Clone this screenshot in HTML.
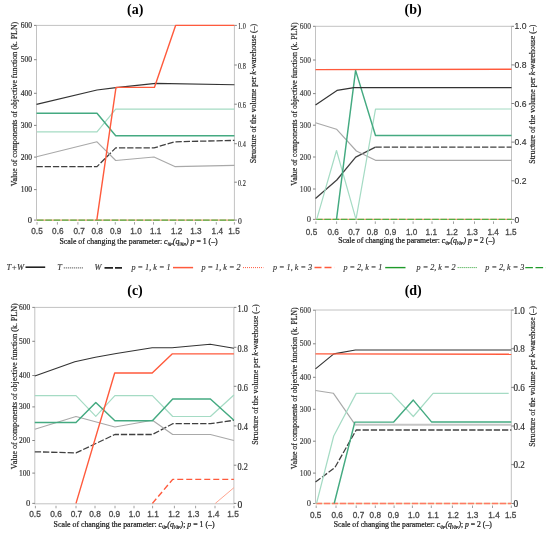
<!DOCTYPE html>
<html><head><meta charset="utf-8"><style>
html,body{margin:0;padding:0;background:#fff;}
svg{display:block;}
</style></head><body>
<svg width="550" height="535" viewBox="0 0 550 535">
<rect width="550" height="535" fill="#fff"/>
<line x1="36.5" y1="25.4" x2="234.4" y2="25.4" stroke="#c2c2c2" stroke-width="1"/>
<line x1="36.5" y1="25.4" x2="36.5" y2="220.6" stroke="#c2c2c2" stroke-width="1"/>
<line x1="234.4" y1="25.4" x2="234.4" y2="220.6" stroke="#c2c2c2" stroke-width="1"/>
<line x1="34.0" y1="25.4" x2="36.5" y2="25.4" stroke="#666" stroke-width="0.8"/>
<text x="32.0" y="27.9" font-family='"Liberation Serif", serif' font-size="8.6" text-anchor="end" fill="#2a2a2a" font-weight="normal" font-style="normal" textLength="11.2" lengthAdjust="spacingAndGlyphs" stroke="#2a2a2a" stroke-width="0.2">600</text>
<line x1="34.0" y1="59.7" x2="36.5" y2="59.7" stroke="#666" stroke-width="0.8"/>
<text x="32.0" y="62.2" font-family='"Liberation Serif", serif' font-size="8.6" text-anchor="end" fill="#2a2a2a" font-weight="normal" font-style="normal" textLength="11.2" lengthAdjust="spacingAndGlyphs" stroke="#2a2a2a" stroke-width="0.2">500</text>
<line x1="34.0" y1="93.3" x2="36.5" y2="93.3" stroke="#666" stroke-width="0.8"/>
<text x="32.0" y="95.8" font-family='"Liberation Serif", serif' font-size="8.6" text-anchor="end" fill="#2a2a2a" font-weight="normal" font-style="normal" textLength="11.2" lengthAdjust="spacingAndGlyphs" stroke="#2a2a2a" stroke-width="0.2">400</text>
<line x1="34.0" y1="125.4" x2="36.5" y2="125.4" stroke="#666" stroke-width="0.8"/>
<text x="32.0" y="127.9" font-family='"Liberation Serif", serif' font-size="8.6" text-anchor="end" fill="#2a2a2a" font-weight="normal" font-style="normal" textLength="11.2" lengthAdjust="spacingAndGlyphs" stroke="#2a2a2a" stroke-width="0.2">300</text>
<line x1="34.0" y1="157.1" x2="36.5" y2="157.1" stroke="#666" stroke-width="0.8"/>
<text x="32.0" y="159.6" font-family='"Liberation Serif", serif' font-size="8.6" text-anchor="end" fill="#2a2a2a" font-weight="normal" font-style="normal" textLength="11.2" lengthAdjust="spacingAndGlyphs" stroke="#2a2a2a" stroke-width="0.2">200</text>
<line x1="34.0" y1="189.6" x2="36.5" y2="189.6" stroke="#666" stroke-width="0.8"/>
<text x="32.0" y="192.1" font-family='"Liberation Serif", serif' font-size="8.6" text-anchor="end" fill="#2a2a2a" font-weight="normal" font-style="normal" textLength="11.2" lengthAdjust="spacingAndGlyphs" stroke="#2a2a2a" stroke-width="0.2">100</text>
<line x1="34.0" y1="220.1" x2="36.5" y2="220.1" stroke="#666" stroke-width="0.8"/>
<text x="32.0" y="222.6" font-family='"Liberation Serif", serif' font-size="8.6" text-anchor="end" fill="#2a2a2a" font-weight="normal" font-style="normal" stroke="#2a2a2a" stroke-width="0.2">0</text>
<line x1="234.4" y1="25.4" x2="236.9" y2="25.4" stroke="#666" stroke-width="0.8"/>
<text x="238.0" y="29.0" font-family='"Liberation Serif", serif' font-size="9.0" text-anchor="start" fill="#2a2a2a" font-weight="normal" font-style="normal" textLength="7.8" lengthAdjust="spacingAndGlyphs" stroke="#2a2a2a" stroke-width="0.15">1.0</text>
<line x1="234.4" y1="65.0" x2="236.9" y2="65.0" stroke="#666" stroke-width="0.8"/>
<text x="238.0" y="68.6" font-family='"Liberation Serif", serif' font-size="9.0" text-anchor="start" fill="#2a2a2a" font-weight="normal" font-style="normal" textLength="7.8" lengthAdjust="spacingAndGlyphs" stroke="#2a2a2a" stroke-width="0.15">0.8</text>
<line x1="234.4" y1="104.2" x2="236.9" y2="104.2" stroke="#666" stroke-width="0.8"/>
<text x="238.0" y="107.8" font-family='"Liberation Serif", serif' font-size="9.0" text-anchor="start" fill="#2a2a2a" font-weight="normal" font-style="normal" textLength="7.8" lengthAdjust="spacingAndGlyphs" stroke="#2a2a2a" stroke-width="0.15">0.6</text>
<line x1="234.4" y1="143.7" x2="236.9" y2="143.7" stroke="#666" stroke-width="0.8"/>
<text x="238.0" y="147.3" font-family='"Liberation Serif", serif' font-size="9.0" text-anchor="start" fill="#2a2a2a" font-weight="normal" font-style="normal" textLength="7.8" lengthAdjust="spacingAndGlyphs" stroke="#2a2a2a" stroke-width="0.15">0.4</text>
<line x1="234.4" y1="182.2" x2="236.9" y2="182.2" stroke="#666" stroke-width="0.8"/>
<text x="238.0" y="185.8" font-family='"Liberation Serif", serif' font-size="9.0" text-anchor="start" fill="#2a2a2a" font-weight="normal" font-style="normal" textLength="7.8" lengthAdjust="spacingAndGlyphs" stroke="#2a2a2a" stroke-width="0.15">0.2</text>
<line x1="234.4" y1="220.1" x2="236.9" y2="220.1" stroke="#666" stroke-width="0.8"/>
<text x="238.0" y="223.7" font-family='"Liberation Serif", serif' font-size="9.0" text-anchor="start" fill="#2a2a2a" font-weight="normal" font-style="normal" textLength="3.8" lengthAdjust="spacingAndGlyphs" stroke="#2a2a2a" stroke-width="0.15">0</text>
<line x1="37.0" y1="222.1" x2="37.0" y2="224.6" stroke="#888" stroke-width="0.8"/>
<line x1="57.4" y1="222.1" x2="57.4" y2="224.6" stroke="#888" stroke-width="0.8"/>
<line x1="77.9" y1="222.1" x2="77.9" y2="224.6" stroke="#888" stroke-width="0.8"/>
<line x1="97.5" y1="222.1" x2="97.5" y2="224.6" stroke="#888" stroke-width="0.8"/>
<line x1="115.3" y1="222.1" x2="115.3" y2="224.6" stroke="#888" stroke-width="0.8"/>
<line x1="134.5" y1="222.1" x2="134.5" y2="224.6" stroke="#888" stroke-width="0.8"/>
<line x1="153.5" y1="222.1" x2="153.5" y2="224.6" stroke="#888" stroke-width="0.8"/>
<line x1="175.3" y1="222.1" x2="175.3" y2="224.6" stroke="#888" stroke-width="0.8"/>
<line x1="195.5" y1="222.1" x2="195.5" y2="224.6" stroke="#888" stroke-width="0.8"/>
<line x1="216.3" y1="222.1" x2="216.3" y2="224.6" stroke="#888" stroke-width="0.8"/>
<line x1="234.4" y1="222.1" x2="234.4" y2="224.6" stroke="#888" stroke-width="0.8"/>
<text x="37.0" y="234.4" font-family='"Liberation Sans", sans-serif' font-size="8.2" text-anchor="middle" fill="#4a4a4a" font-weight="normal" font-style="normal" stroke="#4a4a4a" stroke-width="0.3">0.5</text>
<text x="57.8" y="234.4" font-family='"Liberation Sans", sans-serif' font-size="8.2" text-anchor="middle" fill="#4a4a4a" font-weight="normal" font-style="normal" stroke="#4a4a4a" stroke-width="0.3">0.6</text>
<text x="79.2" y="234.4" font-family='"Liberation Sans", sans-serif' font-size="8.2" text-anchor="middle" fill="#4a4a4a" font-weight="normal" font-style="normal" stroke="#4a4a4a" stroke-width="0.3">0.7</text>
<text x="97.1" y="234.4" font-family='"Liberation Sans", sans-serif' font-size="8.2" text-anchor="middle" fill="#4a4a4a" font-weight="normal" font-style="normal" stroke="#4a4a4a" stroke-width="0.3">0.8</text>
<text x="115.6" y="234.4" font-family='"Liberation Sans", sans-serif' font-size="8.2" text-anchor="middle" fill="#4a4a4a" font-weight="normal" font-style="normal" stroke="#4a4a4a" stroke-width="0.3">0.9</text>
<text x="136.0" y="234.4" font-family='"Liberation Sans", sans-serif' font-size="8.2" text-anchor="middle" fill="#4a4a4a" font-weight="normal" font-style="normal" stroke="#4a4a4a" stroke-width="0.3">1.0</text>
<text x="155.6" y="234.4" font-family='"Liberation Sans", sans-serif' font-size="8.2" text-anchor="middle" fill="#4a4a4a" font-weight="normal" font-style="normal" stroke="#4a4a4a" stroke-width="0.3">1.1</text>
<text x="176.6" y="234.4" font-family='"Liberation Sans", sans-serif' font-size="8.2" text-anchor="middle" fill="#4a4a4a" font-weight="normal" font-style="normal" stroke="#4a4a4a" stroke-width="0.3">1.2</text>
<text x="195.9" y="234.4" font-family='"Liberation Sans", sans-serif' font-size="8.2" text-anchor="middle" fill="#4a4a4a" font-weight="normal" font-style="normal" stroke="#4a4a4a" stroke-width="0.3">1.3</text>
<text x="217.3" y="234.4" font-family='"Liberation Sans", sans-serif' font-size="8.2" text-anchor="middle" fill="#4a4a4a" font-weight="normal" font-style="normal" stroke="#4a4a4a" stroke-width="0.3">1.4</text>
<text x="234.0" y="234.4" font-family='"Liberation Sans", sans-serif' font-size="8.2" text-anchor="middle" fill="#4a4a4a" font-weight="normal" font-style="normal" stroke="#4a4a4a" stroke-width="0.3">1.5</text>
<line x1="36.5" y1="220.1" x2="234.4" y2="220.1" stroke="#f7a27a" stroke-width="1.1"/><line x1="37.0" y1="220.1" x2="234.4" y2="220.1" stroke="#52ad45" stroke-width="1.3" stroke-dasharray="6.6 1.7"/>
<polyline points="36.5,166.6 97.0,166.6 115.7,147.9 154.0,147.9 174.8,141.8 234.4,140.4" fill="none" stroke="#404040" stroke-width="1.3" stroke-dasharray="6.3 1.9" stroke-linejoin="round" stroke-linecap="butt" opacity="1"/>
<polyline points="36.5,156.8 97.0,141.8 115.7,160.5 154.0,157.0 174.8,166.6 234.4,165.4" fill="none" stroke="#a9a9a9" stroke-width="1.15" stroke-linejoin="round" stroke-linecap="butt" opacity="1"/>
<polyline points="37.0,131.8 97.0,131.8 115.7,109.2 234.4,109.2" fill="none" stroke="#a5dbc4" stroke-width="1.2" stroke-linejoin="round" stroke-linecap="butt" opacity="1"/>
<polyline points="36.5,113.2 97.0,113.2 115.7,135.7 234.4,135.7" fill="none" stroke="#44aa81" stroke-width="1.45" stroke-linejoin="round" stroke-linecap="butt" opacity="1"/>
<polyline points="36.5,104.4 97.0,90.0 116.0,87.6 155.6,83.4 234.4,84.8" fill="none" stroke="#333333" stroke-width="1.15" stroke-linejoin="round" stroke-linecap="butt" opacity="1"/>
<polyline points="96.8,220.1 116.0,87.4 154.4,87.4 175.6,25.4 234.4,25.4" fill="none" stroke="#ff5a3c" stroke-width="1.4" stroke-linejoin="round" stroke-linecap="butt" opacity="1"/>
<text x="135.2" y="13.9" font-family='"Liberation Serif", serif' font-size="14" text-anchor="middle" fill="#000" font-weight="bold" font-style="normal" >(a)</text>
<text transform="translate(17.0,104) rotate(-90)" font-family='"Liberation Serif", serif' font-size="7.8" fill="#222" stroke="#222" stroke-width="0.18" text-anchor="middle" textLength="164.5" lengthAdjust="spacingAndGlyphs">Value of components of objective function (k. PLN)</text>
<text transform="translate(256.3,93.5) rotate(-90)" font-family='"Liberation Serif", serif' font-size="7.8" fill="#222" stroke="#222" stroke-width="0.18" text-anchor="middle" textLength="139.5" lengthAdjust="spacingAndGlyphs">Structure of the volume per <tspan font-style="italic">k</tspan>-warehouse (–)</text>
<text x="59.5" y="244" font-family='"Liberation Serif", serif' font-size="7.8" fill="#222" stroke="#222" stroke-width="0.24" textLength="158.2" lengthAdjust="spacingAndGlyphs">Scale of changing the parameter: <tspan font-style="italic">c<tspan font-size="5" dy="1">ijp</tspan><tspan dy="-1">(</tspan>q<tspan font-size="5" dy="1">|ijp</tspan><tspan dy="-1">)</tspan></tspan> <tspan font-style="italic">p</tspan> = 1 (–)</text>
<line x1="315.5" y1="26.3" x2="511.5" y2="26.3" stroke="#c2c2c2" stroke-width="1"/>
<line x1="315.5" y1="26.3" x2="315.5" y2="219.9" stroke="#c2c2c2" stroke-width="1"/>
<line x1="511.5" y1="26.3" x2="511.5" y2="219.9" stroke="#c2c2c2" stroke-width="1"/>
<line x1="313.0" y1="26.3" x2="315.5" y2="26.3" stroke="#666" stroke-width="0.8"/>
<text x="311.0" y="28.8" font-family='"Liberation Serif", serif' font-size="8.6" text-anchor="end" fill="#444" font-weight="normal" font-style="normal" textLength="11.2" lengthAdjust="spacingAndGlyphs" stroke="#444" stroke-width="0.2">600</text>
<line x1="313.0" y1="60.0" x2="315.5" y2="60.0" stroke="#666" stroke-width="0.8"/>
<text x="311.0" y="62.5" font-family='"Liberation Serif", serif' font-size="8.6" text-anchor="end" fill="#444" font-weight="normal" font-style="normal" textLength="11.2" lengthAdjust="spacingAndGlyphs" stroke="#444" stroke-width="0.2">500</text>
<line x1="313.0" y1="93.6" x2="315.5" y2="93.6" stroke="#666" stroke-width="0.8"/>
<text x="311.0" y="96.1" font-family='"Liberation Serif", serif' font-size="8.6" text-anchor="end" fill="#444" font-weight="normal" font-style="normal" textLength="11.2" lengthAdjust="spacingAndGlyphs" stroke="#444" stroke-width="0.2">400</text>
<line x1="313.0" y1="125.2" x2="315.5" y2="125.2" stroke="#666" stroke-width="0.8"/>
<text x="311.0" y="127.7" font-family='"Liberation Serif", serif' font-size="8.6" text-anchor="end" fill="#444" font-weight="normal" font-style="normal" textLength="11.2" lengthAdjust="spacingAndGlyphs" stroke="#444" stroke-width="0.2">300</text>
<line x1="313.0" y1="157.0" x2="315.5" y2="157.0" stroke="#666" stroke-width="0.8"/>
<text x="311.0" y="159.5" font-family='"Liberation Serif", serif' font-size="8.6" text-anchor="end" fill="#444" font-weight="normal" font-style="normal" textLength="11.2" lengthAdjust="spacingAndGlyphs" stroke="#444" stroke-width="0.2">200</text>
<line x1="313.0" y1="189.0" x2="315.5" y2="189.0" stroke="#666" stroke-width="0.8"/>
<text x="311.0" y="191.5" font-family='"Liberation Serif", serif' font-size="8.6" text-anchor="end" fill="#444" font-weight="normal" font-style="normal" textLength="11.2" lengthAdjust="spacingAndGlyphs" stroke="#444" stroke-width="0.2">100</text>
<line x1="313.0" y1="219.4" x2="315.5" y2="219.4" stroke="#666" stroke-width="0.8"/>
<text x="311.0" y="221.9" font-family='"Liberation Serif", serif' font-size="8.6" text-anchor="end" fill="#444" font-weight="normal" font-style="normal" stroke="#444" stroke-width="0.2">0</text>
<line x1="511.5" y1="26.3" x2="514.0" y2="26.3" stroke="#666" stroke-width="0.8"/>
<text x="514.5" y="29.4" font-family='"Liberation Sans", sans-serif' font-size="8.6" text-anchor="start" fill="#333" font-weight="normal" font-style="normal" stroke="#333" stroke-width="0.15">1.0</text>
<line x1="511.5" y1="64.9" x2="514.0" y2="64.9" stroke="#666" stroke-width="0.8"/>
<text x="514.5" y="68.0" font-family='"Liberation Sans", sans-serif' font-size="8.6" text-anchor="start" fill="#333" font-weight="normal" font-style="normal" stroke="#333" stroke-width="0.15">0.8</text>
<line x1="511.5" y1="103.5" x2="514.0" y2="103.5" stroke="#666" stroke-width="0.8"/>
<text x="514.5" y="106.6" font-family='"Liberation Sans", sans-serif' font-size="8.6" text-anchor="start" fill="#333" font-weight="normal" font-style="normal" stroke="#333" stroke-width="0.15">0.6</text>
<line x1="511.5" y1="142.1" x2="514.0" y2="142.1" stroke="#666" stroke-width="0.8"/>
<text x="514.5" y="145.2" font-family='"Liberation Sans", sans-serif' font-size="8.6" text-anchor="start" fill="#333" font-weight="normal" font-style="normal" stroke="#333" stroke-width="0.15">0.4</text>
<line x1="511.5" y1="180.8" x2="514.0" y2="180.8" stroke="#666" stroke-width="0.8"/>
<text x="514.5" y="183.9" font-family='"Liberation Sans", sans-serif' font-size="8.6" text-anchor="start" fill="#333" font-weight="normal" font-style="normal" stroke="#333" stroke-width="0.15">0.2</text>
<line x1="511.5" y1="219.4" x2="514.0" y2="219.4" stroke="#666" stroke-width="0.8"/>
<text x="514.5" y="222.5" font-family='"Liberation Sans", sans-serif' font-size="8.6" text-anchor="start" fill="#333" font-weight="normal" font-style="normal" stroke="#333" stroke-width="0.15">0</text>
<line x1="315.9" y1="221.4" x2="315.9" y2="223.9" stroke="#888" stroke-width="0.8"/>
<line x1="336.6" y1="221.4" x2="336.6" y2="223.9" stroke="#888" stroke-width="0.8"/>
<line x1="356.3" y1="221.4" x2="356.3" y2="223.9" stroke="#888" stroke-width="0.8"/>
<line x1="375.3" y1="221.4" x2="375.3" y2="223.9" stroke="#888" stroke-width="0.8"/>
<line x1="393.9" y1="221.4" x2="393.9" y2="223.9" stroke="#888" stroke-width="0.8"/>
<line x1="413.1" y1="221.4" x2="413.1" y2="223.9" stroke="#888" stroke-width="0.8"/>
<line x1="432.0" y1="221.4" x2="432.0" y2="223.9" stroke="#888" stroke-width="0.8"/>
<line x1="453.5" y1="221.4" x2="453.5" y2="223.9" stroke="#888" stroke-width="0.8"/>
<line x1="474.5" y1="221.4" x2="474.5" y2="223.9" stroke="#888" stroke-width="0.8"/>
<line x1="493.5" y1="221.4" x2="493.5" y2="223.9" stroke="#888" stroke-width="0.8"/>
<line x1="511.5" y1="221.4" x2="511.5" y2="223.9" stroke="#888" stroke-width="0.8"/>
<text x="311.5" y="234.8" font-family='"Liberation Sans", sans-serif' font-size="9.0" text-anchor="middle" fill="#4a4a4a" font-weight="normal" font-style="normal" textLength="11.4" lengthAdjust="spacingAndGlyphs" stroke="#4a4a4a" stroke-width="0.3">0.5</text>
<text x="333.1" y="234.8" font-family='"Liberation Sans", sans-serif' font-size="9.0" text-anchor="middle" fill="#4a4a4a" font-weight="normal" font-style="normal" textLength="11.4" lengthAdjust="spacingAndGlyphs" stroke="#4a4a4a" stroke-width="0.3">0.6</text>
<text x="354.0" y="234.8" font-family='"Liberation Sans", sans-serif' font-size="9.0" text-anchor="middle" fill="#4a4a4a" font-weight="normal" font-style="normal" textLength="11.4" lengthAdjust="spacingAndGlyphs" stroke="#4a4a4a" stroke-width="0.3">0.7</text>
<text x="372.4" y="234.8" font-family='"Liberation Sans", sans-serif' font-size="9.0" text-anchor="middle" fill="#4a4a4a" font-weight="normal" font-style="normal" textLength="11.4" lengthAdjust="spacingAndGlyphs" stroke="#4a4a4a" stroke-width="0.3">0.8</text>
<text x="390.5" y="234.8" font-family='"Liberation Sans", sans-serif' font-size="9.0" text-anchor="middle" fill="#4a4a4a" font-weight="normal" font-style="normal" textLength="11.4" lengthAdjust="spacingAndGlyphs" stroke="#4a4a4a" stroke-width="0.3">0.9</text>
<text x="411.6" y="234.8" font-family='"Liberation Sans", sans-serif' font-size="9.0" text-anchor="middle" fill="#4a4a4a" font-weight="normal" font-style="normal" textLength="11.4" lengthAdjust="spacingAndGlyphs" stroke="#4a4a4a" stroke-width="0.3">1.0</text>
<text x="431.3" y="234.8" font-family='"Liberation Sans", sans-serif' font-size="9.0" text-anchor="middle" fill="#4a4a4a" font-weight="normal" font-style="normal" textLength="11.4" lengthAdjust="spacingAndGlyphs" stroke="#4a4a4a" stroke-width="0.3">1.1</text>
<text x="452.0" y="234.8" font-family='"Liberation Sans", sans-serif' font-size="9.0" text-anchor="middle" fill="#4a4a4a" font-weight="normal" font-style="normal" textLength="11.4" lengthAdjust="spacingAndGlyphs" stroke="#4a4a4a" stroke-width="0.3">1.2</text>
<text x="472.1" y="234.8" font-family='"Liberation Sans", sans-serif' font-size="9.0" text-anchor="middle" fill="#4a4a4a" font-weight="normal" font-style="normal" textLength="11.4" lengthAdjust="spacingAndGlyphs" stroke="#4a4a4a" stroke-width="0.3">1.3</text>
<text x="493.2" y="234.8" font-family='"Liberation Sans", sans-serif' font-size="9.0" text-anchor="middle" fill="#4a4a4a" font-weight="normal" font-style="normal" textLength="11.4" lengthAdjust="spacingAndGlyphs" stroke="#4a4a4a" stroke-width="0.3">1.4</text>
<text x="510.9" y="234.8" font-family='"Liberation Sans", sans-serif' font-size="9.0" text-anchor="middle" fill="#4a4a4a" font-weight="normal" font-style="normal" textLength="11.4" lengthAdjust="spacingAndGlyphs" stroke="#4a4a4a" stroke-width="0.3">1.5</text>
<line x1="315.5" y1="219.4" x2="511.5" y2="219.4" stroke="#f7a27a" stroke-width="1.1"/><line x1="316.0" y1="219.4" x2="511.5" y2="219.4" stroke="#52ad45" stroke-width="1.3" stroke-dasharray="6.6 1.7"/>
<polyline points="315.5,198.4 336.8,180.0 355.7,157.2 375.4,147.2" fill="none" stroke="#404040" stroke-width="1.3" stroke-linejoin="round" stroke-linecap="butt" opacity="1"/>
<polyline points="375.4,147.2 511.5,147.2" fill="none" stroke="#404040" stroke-width="1.3" stroke-dasharray="6.3 1.9" stroke-linejoin="round" stroke-linecap="butt" opacity="1"/>
<polyline points="315.5,122.7 336.5,129.2 356.4,151.0 375.5,160.3 511.5,160.3" fill="none" stroke="#a9a9a9" stroke-width="1.15" stroke-linejoin="round" stroke-linecap="butt" opacity="1"/>
<polyline points="316.7,219.4 336.5,150.5 356.0,219.4 375.5,109.2 511.5,109.0" fill="none" stroke="#a5dbc4" stroke-width="1.2" stroke-linejoin="round" stroke-linecap="butt" opacity="1"/>
<polyline points="336.5,219.4 355.6,70.4 375.5,135.5 511.5,135.5" fill="none" stroke="#44aa81" stroke-width="1.45" stroke-linejoin="round" stroke-linecap="butt" opacity="1"/>
<polyline points="315.5,105.0 337.0,90.4 354.0,87.6 511.5,87.6" fill="none" stroke="#333333" stroke-width="1.15" stroke-linejoin="round" stroke-linecap="butt" opacity="1"/>
<polyline points="315.5,69.6 511.5,69.2" fill="none" stroke="#ff5a3c" stroke-width="1.4" stroke-linejoin="round" stroke-linecap="butt" opacity="1"/>
<text x="413.1" y="13.5" font-family='"Liberation Serif", serif' font-size="14" text-anchor="middle" fill="#000" font-weight="bold" font-style="normal" >(b)</text>
<text transform="translate(297.2,104) rotate(-90)" font-family='"Liberation Serif", serif' font-size="7.8" fill="#222" stroke="#222" stroke-width="0.18" text-anchor="middle" textLength="163.3" lengthAdjust="spacingAndGlyphs">Value of components of objective function (k. PLN)</text>
<text transform="translate(534.5,94.1) rotate(-90)" font-family='"Liberation Serif", serif' font-size="7.8" fill="#222" stroke="#222" stroke-width="0.18" text-anchor="middle" textLength="139.2" lengthAdjust="spacingAndGlyphs">Structure of the volume per <tspan font-style="italic">k</tspan>-warehouse (–)</text>
<text x="338.2" y="243.1" font-family='"Liberation Serif", serif' font-size="7.8" fill="#222" stroke="#222" stroke-width="0.24" textLength="156.7" lengthAdjust="spacingAndGlyphs">Scale of changing the parameter: <tspan font-style="italic">c<tspan font-size="5" dy="1">ijp</tspan><tspan dy="-1">(</tspan>q<tspan font-size="5" dy="1">|ijp</tspan><tspan dy="-1">)</tspan></tspan> <tspan font-style="italic">p</tspan> = 2 (–)</text>
<line x1="34.8" y1="307.4" x2="233.9" y2="307.4" stroke="#c2c2c2" stroke-width="1"/>
<line x1="34.8" y1="307.4" x2="34.8" y2="504.3" stroke="#c2c2c2" stroke-width="1"/>
<line x1="233.9" y1="307.4" x2="233.9" y2="504.3" stroke="#c2c2c2" stroke-width="1"/>
<line x1="34.8" y1="503.8" x2="233.9" y2="503.8" stroke="#c2c2c2" stroke-width="1"/>
<line x1="32.3" y1="307.4" x2="34.8" y2="307.4" stroke="#666" stroke-width="0.8"/>
<text x="30.3" y="309.9" font-family='"Liberation Serif", serif' font-size="8.6" text-anchor="end" fill="#333" font-weight="normal" font-style="normal" textLength="11.2" lengthAdjust="spacingAndGlyphs" stroke="#333" stroke-width="0.2">600</text>
<line x1="32.3" y1="341.3" x2="34.8" y2="341.3" stroke="#666" stroke-width="0.8"/>
<text x="30.3" y="343.8" font-family='"Liberation Serif", serif' font-size="8.6" text-anchor="end" fill="#333" font-weight="normal" font-style="normal" textLength="11.2" lengthAdjust="spacingAndGlyphs" stroke="#333" stroke-width="0.2">500</text>
<line x1="32.3" y1="375.5" x2="34.8" y2="375.5" stroke="#666" stroke-width="0.8"/>
<text x="30.3" y="378.0" font-family='"Liberation Serif", serif' font-size="8.6" text-anchor="end" fill="#333" font-weight="normal" font-style="normal" textLength="11.2" lengthAdjust="spacingAndGlyphs" stroke="#333" stroke-width="0.2">400</text>
<line x1="32.3" y1="406.9" x2="34.8" y2="406.9" stroke="#666" stroke-width="0.8"/>
<text x="30.3" y="409.4" font-family='"Liberation Serif", serif' font-size="8.6" text-anchor="end" fill="#333" font-weight="normal" font-style="normal" textLength="11.2" lengthAdjust="spacingAndGlyphs" stroke="#333" stroke-width="0.2">300</text>
<line x1="32.3" y1="440.5" x2="34.8" y2="440.5" stroke="#666" stroke-width="0.8"/>
<text x="30.3" y="443.0" font-family='"Liberation Serif", serif' font-size="8.6" text-anchor="end" fill="#333" font-weight="normal" font-style="normal" textLength="11.2" lengthAdjust="spacingAndGlyphs" stroke="#333" stroke-width="0.2">200</text>
<line x1="32.3" y1="473.1" x2="34.8" y2="473.1" stroke="#666" stroke-width="0.8"/>
<text x="30.3" y="475.6" font-family='"Liberation Serif", serif' font-size="8.6" text-anchor="end" fill="#333" font-weight="normal" font-style="normal" textLength="11.2" lengthAdjust="spacingAndGlyphs" stroke="#333" stroke-width="0.2">100</text>
<line x1="32.3" y1="503.4" x2="34.8" y2="503.4" stroke="#666" stroke-width="0.8"/>
<text x="30.3" y="505.9" font-family='"Liberation Serif", serif' font-size="8.6" text-anchor="end" fill="#333" font-weight="normal" font-style="normal" stroke="#333" stroke-width="0.2">0</text>
<line x1="233.9" y1="307.4" x2="236.4" y2="307.4" stroke="#666" stroke-width="0.8"/>
<text x="237.5" y="311.9" font-family='"Liberation Serif", serif' font-size="9.6" text-anchor="start" fill="#2a2a2a" font-weight="normal" font-style="normal" textLength="10.4" lengthAdjust="spacingAndGlyphs" stroke="#2a2a2a" stroke-width="0.15">1.0</text>
<line x1="233.9" y1="347.3" x2="236.4" y2="347.3" stroke="#666" stroke-width="0.8"/>
<text x="237.5" y="351.8" font-family='"Liberation Serif", serif' font-size="9.6" text-anchor="start" fill="#2a2a2a" font-weight="normal" font-style="normal" textLength="10.4" lengthAdjust="spacingAndGlyphs" stroke="#2a2a2a" stroke-width="0.15">0.8</text>
<line x1="233.9" y1="386.3" x2="236.4" y2="386.3" stroke="#666" stroke-width="0.8"/>
<text x="237.5" y="390.8" font-family='"Liberation Serif", serif' font-size="9.6" text-anchor="start" fill="#2a2a2a" font-weight="normal" font-style="normal" textLength="10.4" lengthAdjust="spacingAndGlyphs" stroke="#2a2a2a" stroke-width="0.15">0.6</text>
<line x1="233.9" y1="425.9" x2="236.4" y2="425.9" stroke="#666" stroke-width="0.8"/>
<text x="237.5" y="430.4" font-family='"Liberation Serif", serif' font-size="9.6" text-anchor="start" fill="#2a2a2a" font-weight="normal" font-style="normal" textLength="10.4" lengthAdjust="spacingAndGlyphs" stroke="#2a2a2a" stroke-width="0.15">0.4</text>
<line x1="233.9" y1="465.2" x2="236.4" y2="465.2" stroke="#666" stroke-width="0.8"/>
<text x="237.5" y="469.7" font-family='"Liberation Serif", serif' font-size="9.6" text-anchor="start" fill="#2a2a2a" font-weight="normal" font-style="normal" textLength="10.4" lengthAdjust="spacingAndGlyphs" stroke="#2a2a2a" stroke-width="0.15">0.2</text>
<line x1="233.9" y1="503.4" x2="236.4" y2="503.4" stroke="#666" stroke-width="0.8"/>
<text x="237.5" y="507.9" font-family='"Liberation Serif", serif' font-size="9.6" text-anchor="start" fill="#2a2a2a" font-weight="normal" font-style="normal" stroke="#2a2a2a" stroke-width="0.15">0</text>
<line x1="35.4" y1="505.8" x2="35.4" y2="508.3" stroke="#888" stroke-width="0.8"/>
<line x1="56.0" y1="505.8" x2="56.0" y2="508.3" stroke="#888" stroke-width="0.8"/>
<line x1="76.0" y1="505.8" x2="76.0" y2="508.3" stroke="#888" stroke-width="0.8"/>
<line x1="95.0" y1="505.8" x2="95.0" y2="508.3" stroke="#888" stroke-width="0.8"/>
<line x1="115.0" y1="505.8" x2="115.0" y2="508.3" stroke="#888" stroke-width="0.8"/>
<line x1="134.0" y1="505.8" x2="134.0" y2="508.3" stroke="#888" stroke-width="0.8"/>
<line x1="152.6" y1="505.8" x2="152.6" y2="508.3" stroke="#888" stroke-width="0.8"/>
<line x1="174.4" y1="505.8" x2="174.4" y2="508.3" stroke="#888" stroke-width="0.8"/>
<line x1="195.6" y1="505.8" x2="195.6" y2="508.3" stroke="#888" stroke-width="0.8"/>
<line x1="215.0" y1="505.8" x2="215.0" y2="508.3" stroke="#888" stroke-width="0.8"/>
<line x1="234.0" y1="505.8" x2="234.0" y2="508.3" stroke="#888" stroke-width="0.8"/>
<text x="35.0" y="517.2" font-family='"Liberation Sans", sans-serif' font-size="8.3" text-anchor="middle" fill="#4a4a4a" font-weight="normal" font-style="normal" stroke="#4a4a4a" stroke-width="0.3">0.5</text>
<text x="56.0" y="517.2" font-family='"Liberation Sans", sans-serif' font-size="8.3" text-anchor="middle" fill="#4a4a4a" font-weight="normal" font-style="normal" stroke="#4a4a4a" stroke-width="0.3">0.6</text>
<text x="76.4" y="517.2" font-family='"Liberation Sans", sans-serif' font-size="8.3" text-anchor="middle" fill="#4a4a4a" font-weight="normal" font-style="normal" stroke="#4a4a4a" stroke-width="0.3">0.7</text>
<text x="95.0" y="517.2" font-family='"Liberation Sans", sans-serif' font-size="8.3" text-anchor="middle" fill="#4a4a4a" font-weight="normal" font-style="normal" stroke="#4a4a4a" stroke-width="0.3">0.8</text>
<text x="114.4" y="517.2" font-family='"Liberation Sans", sans-serif' font-size="8.3" text-anchor="middle" fill="#4a4a4a" font-weight="normal" font-style="normal" stroke="#4a4a4a" stroke-width="0.3">0.9</text>
<text x="134.4" y="517.2" font-family='"Liberation Sans", sans-serif' font-size="8.3" text-anchor="middle" fill="#4a4a4a" font-weight="normal" font-style="normal" stroke="#4a4a4a" stroke-width="0.3">1.0</text>
<text x="153.0" y="517.2" font-family='"Liberation Sans", sans-serif' font-size="8.3" text-anchor="middle" fill="#4a4a4a" font-weight="normal" font-style="normal" stroke="#4a4a4a" stroke-width="0.3">1.1</text>
<text x="174.0" y="517.2" font-family='"Liberation Sans", sans-serif' font-size="8.3" text-anchor="middle" fill="#4a4a4a" font-weight="normal" font-style="normal" stroke="#4a4a4a" stroke-width="0.3">1.2</text>
<text x="193.6" y="517.2" font-family='"Liberation Sans", sans-serif' font-size="8.3" text-anchor="middle" fill="#4a4a4a" font-weight="normal" font-style="normal" stroke="#4a4a4a" stroke-width="0.3">1.3</text>
<text x="213.6" y="517.2" font-family='"Liberation Sans", sans-serif' font-size="8.3" text-anchor="middle" fill="#4a4a4a" font-weight="normal" font-style="normal" stroke="#4a4a4a" stroke-width="0.3">1.4</text>
<text x="233.0" y="517.2" font-family='"Liberation Sans", sans-serif' font-size="8.3" text-anchor="middle" fill="#4a4a4a" font-weight="normal" font-style="normal" stroke="#4a4a4a" stroke-width="0.3">1.5</text>
<polyline points="215.3,503.4 233.9,487.7" fill="none" stroke="#ffa590" stroke-width="1.0" stroke-linejoin="round" stroke-linecap="butt" opacity="1"/>
<polyline points="152.4,503.4 172.7,479.4 233.9,479.4" fill="none" stroke="#ff5a3c" stroke-width="1.4" stroke-dasharray="6 3" stroke-linejoin="round" stroke-linecap="butt" opacity="1"/>
<polyline points="34.8,451.8 76.0,452.9 114.9,434.5 152.4,434.5 172.7,423.7 210.4,423.7 233.9,420.3" fill="none" stroke="#404040" stroke-width="1.3" stroke-dasharray="6.3 1.9" stroke-linejoin="round" stroke-linecap="butt" opacity="1"/>
<polyline points="34.8,429.3 76.0,416.5 114.9,427.0 152.4,420.3 172.7,434.5 210.4,434.5 233.9,440.5" fill="none" stroke="#a9a9a9" stroke-width="1.15" stroke-linejoin="round" stroke-linecap="butt" opacity="1"/>
<polyline points="34.8,395.6 76.0,395.6 95.8,416.3 114.9,395.6 152.4,395.6 172.7,416.5 210.4,416.5 233.9,395.0" fill="none" stroke="#a5dbc4" stroke-width="1.2" stroke-linejoin="round" stroke-linecap="butt" opacity="1"/>
<polyline points="34.8,422.5 76.0,422.5 95.8,402.4 114.9,420.8 152.4,420.8 172.7,399.0 210.4,399.0 233.9,420.3" fill="none" stroke="#44aa81" stroke-width="1.45" stroke-linejoin="round" stroke-linecap="butt" opacity="1"/>
<polyline points="34.8,376.0 74.8,361.7 95.4,357.2 116.3,353.5 152.2,347.7 172.1,347.7 210.2,344.2 233.9,348.3" fill="none" stroke="#333333" stroke-width="1.15" stroke-linejoin="round" stroke-linecap="butt" opacity="1"/>
<polyline points="76.0,503.4 114.7,373.0 152.2,373.0 172.1,353.9 233.9,353.9" fill="none" stroke="#ff5a3c" stroke-width="1.4" stroke-linejoin="round" stroke-linecap="butt" opacity="1"/>
<text x="135.0" y="295.1" font-family='"Liberation Serif", serif' font-size="14" text-anchor="middle" fill="#000" font-weight="bold" font-style="normal" >(c)</text>
<text transform="translate(16.6,386.3) rotate(-90)" font-family='"Liberation Serif", serif' font-size="7.8" fill="#222" stroke="#222" stroke-width="0.18" text-anchor="middle" textLength="165.7" lengthAdjust="spacingAndGlyphs">Value of components of objective function (k. PLN)</text>
<text transform="translate(257.6,374.6) rotate(-90)" font-family='"Liberation Serif", serif' font-size="7.8" fill="#222" stroke="#222" stroke-width="0.18" text-anchor="middle" textLength="140.3" lengthAdjust="spacingAndGlyphs">Structure of the volume per <tspan font-style="italic">k</tspan>-warehouse (–)</text>
<text x="53.6" y="526.7" font-family='"Liberation Serif", serif' font-size="7.8" fill="#222" stroke="#222" stroke-width="0.24" textLength="161" lengthAdjust="spacingAndGlyphs">Scale of changing the parameter: <tspan font-style="italic">c<tspan font-size="5" dy="1">ijp</tspan><tspan dy="-1">(</tspan>q<tspan font-size="5" dy="1">|ijp</tspan><tspan dy="-1">)</tspan></tspan>; <tspan font-style="italic">p</tspan> = 1 (–)</text>
<line x1="315.5" y1="310.0" x2="511.3" y2="310.0" stroke="#c2c2c2" stroke-width="1"/>
<line x1="315.5" y1="310.0" x2="315.5" y2="504.0" stroke="#c2c2c2" stroke-width="1"/>
<line x1="511.3" y1="310.0" x2="511.3" y2="504.0" stroke="#c2c2c2" stroke-width="1"/>
<line x1="313.0" y1="310.2" x2="315.5" y2="310.2" stroke="#666" stroke-width="0.8"/>
<text x="311.0" y="312.7" font-family='"Liberation Serif", serif' font-size="8.6" text-anchor="end" fill="#444" font-weight="normal" font-style="normal" textLength="11.2" lengthAdjust="spacingAndGlyphs" stroke="#444" stroke-width="0.2">600</text>
<line x1="313.0" y1="343.8" x2="315.5" y2="343.8" stroke="#666" stroke-width="0.8"/>
<text x="311.0" y="346.3" font-family='"Liberation Serif", serif' font-size="8.6" text-anchor="end" fill="#444" font-weight="normal" font-style="normal" textLength="11.2" lengthAdjust="spacingAndGlyphs" stroke="#444" stroke-width="0.2">500</text>
<line x1="313.0" y1="377.3" x2="315.5" y2="377.3" stroke="#666" stroke-width="0.8"/>
<text x="311.0" y="379.8" font-family='"Liberation Serif", serif' font-size="8.6" text-anchor="end" fill="#444" font-weight="normal" font-style="normal" textLength="11.2" lengthAdjust="spacingAndGlyphs" stroke="#444" stroke-width="0.2">400</text>
<line x1="313.0" y1="409.3" x2="315.5" y2="409.3" stroke="#666" stroke-width="0.8"/>
<text x="311.0" y="411.8" font-family='"Liberation Serif", serif' font-size="8.6" text-anchor="end" fill="#444" font-weight="normal" font-style="normal" textLength="11.2" lengthAdjust="spacingAndGlyphs" stroke="#444" stroke-width="0.2">300</text>
<line x1="313.0" y1="441.2" x2="315.5" y2="441.2" stroke="#666" stroke-width="0.8"/>
<text x="311.0" y="443.7" font-family='"Liberation Serif", serif' font-size="8.6" text-anchor="end" fill="#444" font-weight="normal" font-style="normal" textLength="11.2" lengthAdjust="spacingAndGlyphs" stroke="#444" stroke-width="0.2">200</text>
<line x1="313.0" y1="473.1" x2="315.5" y2="473.1" stroke="#666" stroke-width="0.8"/>
<text x="311.0" y="475.6" font-family='"Liberation Serif", serif' font-size="8.6" text-anchor="end" fill="#444" font-weight="normal" font-style="normal" textLength="11.2" lengthAdjust="spacingAndGlyphs" stroke="#444" stroke-width="0.2">100</text>
<line x1="313.0" y1="503.5" x2="315.5" y2="503.5" stroke="#666" stroke-width="0.8"/>
<text x="311.0" y="506.0" font-family='"Liberation Serif", serif' font-size="8.6" text-anchor="end" fill="#444" font-weight="normal" font-style="normal" stroke="#444" stroke-width="0.2">0</text>
<line x1="511.3" y1="310.0" x2="513.8" y2="310.0" stroke="#666" stroke-width="0.8"/>
<text x="513.5" y="313.5" font-family='"Liberation Serif", serif' font-size="9.4" text-anchor="start" fill="#2a2a2a" font-weight="normal" font-style="normal" textLength="11.4" lengthAdjust="spacingAndGlyphs" stroke="#2a2a2a" stroke-width="0.15">1.0</text>
<line x1="511.3" y1="348.7" x2="513.8" y2="348.7" stroke="#666" stroke-width="0.8"/>
<text x="513.5" y="352.2" font-family='"Liberation Serif", serif' font-size="9.4" text-anchor="start" fill="#2a2a2a" font-weight="normal" font-style="normal" textLength="11.4" lengthAdjust="spacingAndGlyphs" stroke="#2a2a2a" stroke-width="0.15">0.8</text>
<line x1="511.3" y1="387.4" x2="513.8" y2="387.4" stroke="#666" stroke-width="0.8"/>
<text x="513.5" y="390.9" font-family='"Liberation Serif", serif' font-size="9.4" text-anchor="start" fill="#2a2a2a" font-weight="normal" font-style="normal" textLength="11.4" lengthAdjust="spacingAndGlyphs" stroke="#2a2a2a" stroke-width="0.15">0.6</text>
<line x1="511.3" y1="426.0" x2="513.8" y2="426.0" stroke="#666" stroke-width="0.8"/>
<text x="513.5" y="429.5" font-family='"Liberation Serif", serif' font-size="9.4" text-anchor="start" fill="#2a2a2a" font-weight="normal" font-style="normal" textLength="11.4" lengthAdjust="spacingAndGlyphs" stroke="#2a2a2a" stroke-width="0.15">0.4</text>
<line x1="511.3" y1="464.6" x2="513.8" y2="464.6" stroke="#666" stroke-width="0.8"/>
<text x="513.5" y="468.1" font-family='"Liberation Serif", serif' font-size="9.4" text-anchor="start" fill="#2a2a2a" font-weight="normal" font-style="normal" textLength="11.4" lengthAdjust="spacingAndGlyphs" stroke="#2a2a2a" stroke-width="0.15">0.2</text>
<line x1="511.3" y1="503.5" x2="513.8" y2="503.5" stroke="#666" stroke-width="0.8"/>
<text x="513.5" y="507.0" font-family='"Liberation Serif", serif' font-size="9.4" text-anchor="start" fill="#2a2a2a" font-weight="normal" font-style="normal" stroke="#2a2a2a" stroke-width="0.15">0</text>
<line x1="316.2" y1="505.5" x2="316.2" y2="508.0" stroke="#888" stroke-width="0.8"/>
<line x1="336.0" y1="505.5" x2="336.0" y2="508.0" stroke="#888" stroke-width="0.8"/>
<line x1="356.2" y1="505.5" x2="356.2" y2="508.0" stroke="#888" stroke-width="0.8"/>
<line x1="375.3" y1="505.5" x2="375.3" y2="508.0" stroke="#888" stroke-width="0.8"/>
<line x1="394.1" y1="505.5" x2="394.1" y2="508.0" stroke="#888" stroke-width="0.8"/>
<line x1="412.4" y1="505.5" x2="412.4" y2="508.0" stroke="#888" stroke-width="0.8"/>
<line x1="431.3" y1="505.5" x2="431.3" y2="508.0" stroke="#888" stroke-width="0.8"/>
<line x1="452.4" y1="505.5" x2="452.4" y2="508.0" stroke="#888" stroke-width="0.8"/>
<line x1="472.5" y1="505.5" x2="472.5" y2="508.0" stroke="#888" stroke-width="0.8"/>
<line x1="492.5" y1="505.5" x2="492.5" y2="508.0" stroke="#888" stroke-width="0.8"/>
<line x1="511.3" y1="505.5" x2="511.3" y2="508.0" stroke="#888" stroke-width="0.8"/>
<text x="315.7" y="518.4" font-family='"Liberation Sans", sans-serif' font-size="8.2" text-anchor="middle" fill="#4a4a4a" font-weight="normal" font-style="normal" stroke="#4a4a4a" stroke-width="0.3">0.5</text>
<text x="337.1" y="518.4" font-family='"Liberation Sans", sans-serif' font-size="8.2" text-anchor="middle" fill="#4a4a4a" font-weight="normal" font-style="normal" stroke="#4a4a4a" stroke-width="0.3">0.6</text>
<text x="358.5" y="518.4" font-family='"Liberation Sans", sans-serif' font-size="8.2" text-anchor="middle" fill="#4a4a4a" font-weight="normal" font-style="normal" stroke="#4a4a4a" stroke-width="0.3">0.7</text>
<text x="375.3" y="518.4" font-family='"Liberation Sans", sans-serif' font-size="8.2" text-anchor="middle" fill="#4a4a4a" font-weight="normal" font-style="normal" stroke="#4a4a4a" stroke-width="0.3">0.8</text>
<text x="393.4" y="518.4" font-family='"Liberation Sans", sans-serif' font-size="8.2" text-anchor="middle" fill="#4a4a4a" font-weight="normal" font-style="normal" stroke="#4a4a4a" stroke-width="0.3">0.9</text>
<text x="413.8" y="518.4" font-family='"Liberation Sans", sans-serif' font-size="8.2" text-anchor="middle" fill="#4a4a4a" font-weight="normal" font-style="normal" stroke="#4a4a4a" stroke-width="0.3">1.0</text>
<text x="433.2" y="518.4" font-family='"Liberation Sans", sans-serif' font-size="8.2" text-anchor="middle" fill="#4a4a4a" font-weight="normal" font-style="normal" stroke="#4a4a4a" stroke-width="0.3">1.1</text>
<text x="453.1" y="518.4" font-family='"Liberation Sans", sans-serif' font-size="8.2" text-anchor="middle" fill="#4a4a4a" font-weight="normal" font-style="normal" stroke="#4a4a4a" stroke-width="0.3">1.2</text>
<text x="472.7" y="518.4" font-family='"Liberation Sans", sans-serif' font-size="8.2" text-anchor="middle" fill="#4a4a4a" font-weight="normal" font-style="normal" stroke="#4a4a4a" stroke-width="0.3">1.3</text>
<text x="494.0" y="518.4" font-family='"Liberation Sans", sans-serif' font-size="8.2" text-anchor="middle" fill="#4a4a4a" font-weight="normal" font-style="normal" stroke="#4a4a4a" stroke-width="0.3">1.4</text>
<text x="510.7" y="518.4" font-family='"Liberation Sans", sans-serif' font-size="8.2" text-anchor="middle" fill="#4a4a4a" font-weight="normal" font-style="normal" stroke="#4a4a4a" stroke-width="0.3">1.5</text>
<line x1="315.5" y1="503.5" x2="511.3" y2="503.5" stroke="#e9d8b6" stroke-width="1.6"/><line x1="316.0" y1="503.5" x2="511.3" y2="503.5" stroke="#ff7a62" stroke-width="1.6" stroke-dasharray="6 2"/>
<polyline points="315.5,482.1 334.9,467.5 356.2,430.0 511.3,430.0" fill="none" stroke="#404040" stroke-width="1.3" stroke-dasharray="6.3 1.9" stroke-linejoin="round" stroke-linecap="butt" opacity="1"/>
<polyline points="315.5,390.5 333.3,393.2 354.8,424.2" fill="none" stroke="#a9a9a9" stroke-width="1.15" stroke-linejoin="round" stroke-linecap="butt" opacity="1"/>
<polyline points="354.8,424.8 511.3,424.8" fill="none" stroke="#c4c4c4" stroke-width="2.0" stroke-linejoin="round" stroke-linecap="butt" opacity="1"/>
<polyline points="316.5,503.5 333.7,436.0 356.2,393.4 391.5,393.4 413.3,416.5 433.1,393.4 508.7,393.4" fill="none" stroke="#a5dbc4" stroke-width="1.2" stroke-linejoin="round" stroke-linecap="butt" opacity="1"/>
<polyline points="334.2,503.5 354.8,422.1 393.7,422.1 413.3,400.1 431.5,421.9 511.3,421.9" fill="none" stroke="#44aa81" stroke-width="1.45" stroke-linejoin="round" stroke-linecap="butt" opacity="1"/>
<polyline points="315.5,368.9 333.8,353.9 355.4,350.0 511.3,350.0" fill="none" stroke="#333333" stroke-width="1.15" stroke-linejoin="round" stroke-linecap="butt" opacity="1"/>
<polyline points="315.5,353.9 511.3,354.3" fill="none" stroke="#ff5a3c" stroke-width="1.4" stroke-linejoin="round" stroke-linecap="butt" opacity="1"/>
<text x="413.2" y="294.8" font-family='"Liberation Serif", serif' font-size="14" text-anchor="middle" fill="#000" font-weight="bold" font-style="normal" >(d)</text>
<text transform="translate(297.2,388.3) rotate(-90)" font-family='"Liberation Serif", serif' font-size="7.8" fill="#222" stroke="#222" stroke-width="0.18" text-anchor="middle" textLength="162" lengthAdjust="spacingAndGlyphs">Value of components of objective function (k. PLN)</text>
<text transform="translate(534.5,376.4) rotate(-90)" font-family='"Liberation Serif", serif' font-size="7.8" fill="#222" stroke="#222" stroke-width="0.18" text-anchor="middle" textLength="140.7" lengthAdjust="spacingAndGlyphs">Structure of the volume per <tspan font-style="italic">k</tspan>-warehouse (–)</text>
<text x="333.8" y="526.7" font-family='"Liberation Serif", serif' font-size="7.8" fill="#222" stroke="#222" stroke-width="0.24" textLength="158" lengthAdjust="spacingAndGlyphs">Scale of changing the parameter: <tspan font-style="italic">c<tspan font-size="5" dy="1">ijp</tspan><tspan dy="-1">(</tspan>q<tspan font-size="5" dy="1">|ijp</tspan><tspan dy="-1">)</tspan></tspan>; <tspan font-style="italic">p</tspan> = 2 (–)</text>
<text x="6.4" y="269.7" font-family='"Liberation Serif", serif' font-size="8.4" text-anchor="start" fill="#333" font-weight="normal" font-style="italic" textLength="17.6" lengthAdjust="spacingAndGlyphs" stroke="#3a3a3a" stroke-width="0.15">T+W</text>
<line x1="25.5" y1="267.2" x2="45.2" y2="267.2" stroke="#222" stroke-width="1.6"/>
<text x="57.3" y="269.7" font-family='"Liberation Serif", serif' font-size="8.4" text-anchor="start" fill="#333" font-weight="normal" font-style="italic" stroke="#3a3a3a" stroke-width="0.15">T</text>
<line x1="63.8" y1="267.9" x2="83.7" y2="267.9" stroke="#333" stroke-width="1.0" stroke-dasharray="1 1"/>
<text x="94.4" y="269.7" font-family='"Liberation Serif", serif' font-size="8.4" text-anchor="start" fill="#333" font-weight="normal" font-style="italic" stroke="#3a3a3a" stroke-width="0.15">W</text>
<line x1="104.5" y1="267.9" x2="122.0" y2="267.9" stroke="#222" stroke-width="1.6" stroke-dasharray="8.5 2"/>
<text x="131.5" y="269.7" font-family='"Liberation Serif", serif' font-size="8.4" text-anchor="start" fill="#333" font-weight="normal" font-style="italic" textLength="39" lengthAdjust="spacingAndGlyphs" stroke="#3a3a3a" stroke-width="0.15">p = 1, k = 1</text>
<line x1="173.0" y1="267.6" x2="193.1" y2="267.6" stroke="#ff5a3c" stroke-width="1.5"/>
<text x="201.5" y="269.7" font-family='"Liberation Serif", serif' font-size="8.4" text-anchor="start" fill="#333" font-weight="normal" font-style="italic" textLength="39" lengthAdjust="spacingAndGlyphs" stroke="#3a3a3a" stroke-width="0.15">p = 1, k = 2</text>
<line x1="243.0" y1="267.6" x2="263.4" y2="267.6" stroke="#ff5a40" stroke-width="1.0" stroke-dasharray="1 1"/>
<text x="273.0" y="269.7" font-family='"Liberation Serif", serif' font-size="8.4" text-anchor="start" fill="#333" font-weight="normal" font-style="italic" textLength="39" lengthAdjust="spacingAndGlyphs" stroke="#3a3a3a" stroke-width="0.15">p = 1, k = 3</text>
<line x1="314.5" y1="267.6" x2="334.6" y2="267.6" stroke="#ff5a3c" stroke-width="1.5" stroke-dasharray="7 3"/>
<text x="343.4" y="269.7" font-family='"Liberation Serif", serif' font-size="8.4" text-anchor="start" fill="#333" font-weight="normal" font-style="italic" textLength="39" lengthAdjust="spacingAndGlyphs" stroke="#3a3a3a" stroke-width="0.15">p = 2, k = 1</text>
<line x1="385.2" y1="267.6" x2="405.5" y2="267.6" stroke="#1f9a2a" stroke-width="1.4"/>
<text x="416.6" y="269.7" font-family='"Liberation Serif", serif' font-size="8.4" text-anchor="start" fill="#333" font-weight="normal" font-style="italic" textLength="39" lengthAdjust="spacingAndGlyphs" stroke="#3a3a3a" stroke-width="0.15">p = 2, k = 2</text>
<line x1="457.7" y1="267.6" x2="477.7" y2="267.6" stroke="#2aa030" stroke-width="1.0" stroke-dasharray="1 1"/>
<text x="485.3" y="269.7" font-family='"Liberation Serif", serif' font-size="8.4" text-anchor="start" fill="#333" font-weight="normal" font-style="italic" textLength="39" lengthAdjust="spacingAndGlyphs" stroke="#3a3a3a" stroke-width="0.15">p = 2, k = 3</text>
<line x1="525.3" y1="267.6" x2="545.8" y2="267.6" stroke="#1f9a2a" stroke-width="1.4" stroke-dasharray="7.6 2.6"/>
</svg>
</body></html>
